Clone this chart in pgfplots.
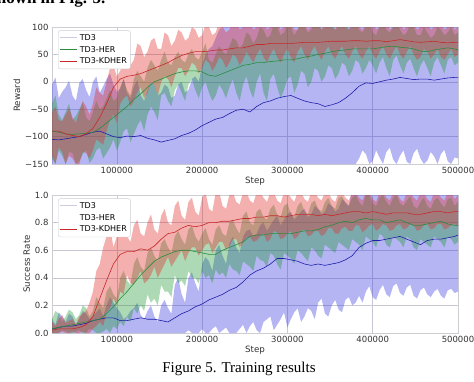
\documentclass[border=0pt]{standalone}
\usepackage{pgfplots}
\pgfplotsset{compat=1.18}
\usepackage{pgfplotstable}
\usepgfplotslibrary{fillbetween}
\usepackage{fontspec}
\setmainfont{DejaVu Sans}
\newfontfamily\timesf{Liberation Serif}

\definecolor{cb}{RGB}{60,60,225}
\definecolor{cg}{RGB}{20,150,40}
\definecolor{cr}{RGB}{225,45,45}
\definecolor{meanb}{RGB}{30,30,170}
\definecolor{meang}{RGB}{40,140,60}
\definecolor{meanr}{RGB}{200,40,40}
\definecolor{legpale}{RGB}{205,205,225}
\definecolor{gridc}{RGB}{200,200,212}
\definecolor{framec}{RGB}{205,205,210}
\definecolor{tickc}{RGB}{50,50,50}

% ---------- Reward: mean curves ----------
\pgfplotstableread{
x bm gm rm
24000 -105 -90 -90
32000 -106 -92 -90
40000 -104 -95 -95
48000 -102 -96 -98
56000 -100 -95 -100
64000 -96 -94 -95
72000 -92 -92 -85
80000 -90 -85 -65
88000 -95 -75 -40
96000 -100 -65 -10
104000 -102 -55 5
112000 -99 -45 10
120000 -100 -32 12
128000 -98 -22 15
136000 -103 -10 20
144000 -106 0 25
152000 -110 5 30
160000 -107 10 35
168000 -104 15 42
176000 -98 18 48
184000 -94 20 52
192000 -88 20 55
200000 -80 18 55
208000 -74 12 56
216000 -68 10 58
224000 -65 15 58
232000 -58 20 60
240000 -52 25 62
248000 -50 30 62
256000 -55 32 65
264000 -45 35 68
272000 -38 35 68
280000 -35 37 70
288000 -30 38 70
296000 -27 40 70
304000 -25 40 70
312000 -30 42 71
320000 -35 45 72
328000 -38 47 72
336000 -40 50 72
344000 -45 52 73
352000 -42 55 74
360000 -38 57 74
368000 -30 58 74
376000 -20 60 75
384000 -8 60 75
392000 -2 60 74
400000 -3 60 75
408000 0 62 75
416000 3 64 73
424000 5 65 75
432000 8 63 77
440000 6 62 75
448000 4 60 73
456000 5 56 72
464000 5 55 73
472000 3 58 74
480000 5 60 72
488000 7 62 71
496000 8 60 72
500000 8 58 72
}\topmean

% ---------- Reward: band limits ----------
\pgfplotstableread{
x bl bu gl gu rl ru
24000 -150 -5 -140 -40 -135 -55
28000 -150 8 -150 -25 -150 -45
32000 -150 -30 -125 -60 -120 -70
36000 -150 -18 -135 -70 -128 -72
40000 -150 -10 -150 -55 -150 -60
44000 -150 2 -128 -40 -135 -48
48000 -150 -25 -130 -70 -140 -65
52000 -150 -35 -150 -62 -150 -75
56000 -150 -2 -145 -50 -150 -55
60000 -150 5 -132 -38 -128 -35
64000 -150 -15 -125 -65 -130 -45
68000 -150 -28 -148 -72 -140 -60
72000 -150 0 -140 -55 -125 -40
76000 -150 10 -125 -35 -105 -10
80000 -150 -20 -120 -50 -110 -20
84000 -150 -8 -140 -45 -115 -25
88000 -150 5 -130 -30 -90 0
92000 -150 15 -120 -15 -70 25
96000 -150 -5 -105 -35 -60 30
100000 -150 -18 -125 -30 -75 10
104000 -150 -12 -110 -10 -40 20
108000 -150 5 -90 5 -30 45
112000 -150 -20 -85 -15 -25 50
116000 -150 -30 -110 -25 -45 30
120000 -150 -8 -95 5 -35 40
124000 -150 3 -80 20 -20 70
128000 -150 -25 -70 10 -10 65
132000 -150 -35 -90 0 -30 45
136000 -150 -15 -60 25 -20 55
140000 -150 -2 -45 40 -2 75
144000 -150 -5 -55 30 -5 80
148000 -150 -25 -70 20 -25 60
152000 -150 -20 -25 40 0 60
156000 -150 -5 -20 55 10 90
160000 -150 -10 -35 35 5 85
164000 -150 -30 -45 30 -10 65
168000 -150 -25 -15 45 10 75
172000 -150 -5 -5 55 25 95
176000 -150 0 -20 40 25 90
180000 -150 -20 -35 35 10 75
184000 -150 -15 -5 50 20 80
188000 -150 5 5 60 35 100
192000 -150 10 -15 45 30 95
196000 -150 0 -30 40 15 80
200000 -150 30 -10 55 25 85
204000 -150 50 0 70 40 105
208000 -150 60 -20 40 35 100
212000 -150 65 -35 35 20 85
216000 -150 80 -25 50 30 90
220000 -150 95 -5 65 45 110
224000 -150 100 -15 55 40 100
228000 -150 110 -30 50 25 90
232000 -150 110 -10 65 35 95
236000 -150 110 5 80 50 110
240000 -150 110 -20 75 45 110
244000 -150 110 -35 60 30 95
248000 -150 110 -5 70 40 100
252000 -150 110 10 90 55 110
256000 -150 110 -15 85 45 110
260000 -150 110 -30 70 35 95
264000 -150 110 0 80 50 100
268000 -150 110 15 100 60 110
272000 -150 110 -20 95 45 110
276000 -150 110 -35 80 35 95
280000 -150 110 5 85 50 100
284000 -150 110 15 105 60 110
288000 -150 110 -10 100 45 110
292000 -150 110 -30 85 35 95
296000 -150 110 -15 90 50 100
300000 -150 110 5 105 60 110
304000 -150 110 10 100 45 110
308000 -150 110 -20 85 35 95
312000 -150 110 -5 95 55 95
316000 -150 110 20 110 65 110
320000 -150 110 15 100 50 110
324000 -150 110 -10 90 40 95
328000 -150 110 0 95 55 100
332000 -150 110 25 110 65 110
336000 -150 110 20 110 50 105
340000 -150 110 0 95 40 95
344000 -150 110 10 100 55 110
348000 -150 110 30 110 65 110
352000 -150 110 25 110 50 100
356000 -150 110 5 95 42 95
360000 -150 110 15 100 55 110
364000 -150 110 35 110 65 110
368000 -150 110 30 110 50 100
372000 -150 110 10 95 42 95
376000 -150 110 20 100 55 110
380000 -150 110 40 110 65 110
384000 -140 110 35 95 50 100
388000 -125 110 15 90 42 95
392000 -132 110 25 100 55 105
396000 -150 110 40 110 65 110
400000 -145 110 30 90 50 110
404000 -125 110 15 85 42 95
408000 -138 110 35 100 55 100
412000 -150 110 45 110 65 110
416000 -128 110 25 95 50 110
420000 -120 110 10 90 42 95
424000 -142 110 40 100 55 100
428000 -150 110 48 110 65 110
432000 -135 110 30 95 50 110
436000 -125 110 15 85 42 95
440000 -146 110 35 90 55 100
444000 -150 110 42 105 65 110
448000 -130 110 25 100 50 105
452000 -122 110 10 85 40 95
456000 -140 110 30 85 45 100
460000 -150 110 40 100 60 110
464000 -144 110 25 90 55 110
468000 -128 110 10 80 42 95
472000 -136 110 35 85 50 100
476000 -150 110 45 100 60 110
480000 -132 110 30 95 45 105
484000 -124 110 15 85 40 95
488000 -145 110 40 90 50 100
492000 -150 110 45 100 60 110
496000 -138 110 30 85 45 95
500000 -140 110 35 90 50 100
}\topband

% ---------- Success rate: mean curves ----------
\pgfplotstableread{
x bm gm rm
24000 0.03 0.03 0.02
32000 0.04 0.04 0.03
40000 0.05 0.05 0.03
48000 0.05 0.06 0.03
56000 0.06 0.07 0.04
64000 0.07 0.08 0.06
72000 0.09 0.09 0.12
80000 0.10 0.10 0.25
88000 0.11 0.14 0.38
96000 0.11 0.19 0.50
104000 0.09 0.25 0.57
112000 0.09 0.30 0.59
120000 0.10 0.36 0.59
128000 0.11 0.42 0.61
136000 0.10 0.47 0.60
144000 0.10 0.52 0.63
152000 0.09 0.55 0.68
160000 0.08 0.57 0.72
168000 0.11 0.59 0.73
176000 0.14 0.60 0.76
184000 0.16 0.60 0.78
192000 0.19 0.59 0.77
200000 0.21 0.58 0.78
208000 0.24 0.57 0.80
216000 0.26 0.57 0.80
224000 0.28 0.60 0.81
232000 0.31 0.62 0.81
240000 0.33 0.64 0.82
248000 0.37 0.66 0.83
256000 0.42 0.70 0.83
264000 0.45 0.71 0.84
272000 0.47 0.71 0.84
280000 0.50 0.72 0.85
288000 0.54 0.72 0.85
296000 0.54 0.72 0.84
304000 0.53 0.72 0.85
312000 0.52 0.73 0.86
320000 0.50 0.74 0.86
328000 0.49 0.74 0.86
336000 0.50 0.75 0.85
344000 0.49 0.77 0.86
352000 0.50 0.78 0.85
360000 0.51 0.80 0.86
368000 0.53 0.81 0.87
376000 0.56 0.80 0.88
384000 0.62 0.82 0.88
392000 0.65 0.83 0.87
400000 0.67 0.82 0.88
408000 0.67 0.82 0.87
416000 0.68 0.80 0.86
424000 0.69 0.81 0.87
432000 0.70 0.82 0.87
440000 0.68 0.80 0.87
448000 0.66 0.78 0.86
456000 0.64 0.78 0.86
464000 0.67 0.79 0.87
472000 0.68 0.80 0.88
480000 0.68 0.81 0.88
488000 0.69 0.79 0.87
496000 0.70 0.78 0.88
500000 0.71 0.78 0.88
}\botmean

% ---------- Success rate: band limits ----------
\pgfplotstableread{
x bl bu gl gu rl ru
24000 0 0.10 0 0.10 0 0.08
28000 0 0.06 0 0.16 0 0.05
32000 0 0.15 0 0.14 0 0.10
36000 0 0.12 0.02 0.08 0.01 0.13
40000 0 0.08 0.01 0.12 0 0.07
44000 0 0.14 0 0.17 0 0.09
48000 0 0.12 0 0.15 0.01 0.10
52000 0 0.06 0.01 0.10 0 0.06
56000 0 0.10 0.02 0.13 0 0.12
60000 0 0.16 0 0.20 0.01 0.14
64000 0 0.14 0 0.18 0 0.16
68000 0 0.10 0.03 0.12 0 0.22
72000 0 0.12 0.02 0.16 0.03 0.30
76000 0 0.15 0 0.26 0.05 0.45
80000 0 0.18 0 0.22 0.08 0.50
84000 0 0.12 0.01 0.18 0.05 0.62
88000 0 0.20 0.03 0.30 0.15 0.70
92000 0 0.26 0 0.34 0.18 0.78
96000 0 0.22 0.05 0.28 0.25 0.62
100000 0 0.18 0.03 0.25 0.20 0.70
104000 0 0.15 0.08 0.40 0.30 0.80
108000 0 0.10 0.05 0.45 0.28 0.85
112000 0 0.12 0.12 0.38 0.42 0.70
116000 0 0.16 0.08 0.35 0.36 0.66
120000 0 0.18 0.18 0.50 0.35 0.78
124000 0 0.22 0.14 0.55 0.40 0.82
128000 0 0.13 0.20 0.48 0.45 0.72
132000 0 0.10 0.16 0.45 0.36 0.70
136000 0 0.16 0.28 0.58 0.38 0.80
140000 0 0.20 0.22 0.62 0.42 0.86
144000 0 0.12 0.25 0.56 0.48 0.75
148000 0 0.08 0.20 0.52 0.40 0.72
152000 0 0.20 0.35 0.65 0.45 0.85
156000 0 0.24 0.30 0.68 0.50 0.90
160000 0 0.18 0.30 0.62 0.55 0.80
164000 0 0.14 0.26 0.58 0.48 0.78
168000 0 0.35 0.42 0.70 0.52 0.92
172000 0 0.40 0.36 0.74 0.56 0.96
176000 0 0.28 0.38 0.68 0.60 0.85
180000 0 0.22 0.34 0.64 0.52 0.82
184000 0.02 0.40 0.45 0.75 0.58 0.95
188000 0 0.44 0.40 0.78 0.62 0.98
192000 0 0.36 0.40 0.70 0.62 0.88
196000 0 0.30 0.36 0.66 0.56 0.85
200000 0.03 0.50 0.45 0.72 0.60 0.98
204000 0 0.55 0.40 0.76 0.64 1.02
208000 0 0.52 0.42 0.68 0.65 0.90
212000 0.03 0.45 0.36 0.64 0.58 0.88
216000 0.05 0.60 0.46 0.75 0.62 1.02
220000 0 0.64 0.42 0.78 0.66 1.02
224000 0.02 0.56 0.44 0.72 0.66 0.92
228000 0.04 0.50 0.40 0.70 0.60 0.90
232000 0 0.65 0.50 0.80 0.63 1.0
236000 0 0.70 0.46 0.82 0.68 1.02
240000 0 0.62 0.45 0.76 0.68 0.95
244000 0.03 0.58 0.42 0.72 0.62 0.93
248000 0.06 0.70 0.52 0.85 0.65 1.02
252000 0 0.74 0.50 0.88 0.69 1.02
256000 0.05 0.75 0.48 0.80 0.70 0.96
260000 0.08 0.70 0.45 0.78 0.66 0.94
264000 0.02 0.72 0.56 0.88 0.67 1.02
268000 0 0.78 0.53 0.90 0.70 1.02
272000 0.08 0.80 0.52 0.84 0.72 0.98
276000 0.10 0.74 0.48 0.82 0.66 0.95
280000 0.12 0.78 0.58 0.90 0.68 1.02
284000 0.02 0.82 0.56 0.93 0.74 1.02
288000 0.06 0.85 0.50 0.86 0.73 0.96
292000 0.10 0.78 0.46 0.84 0.68 0.94
296000 0.15 0.82 0.58 0.92 0.69 1.02
300000 0.04 0.86 0.56 0.94 0.72 1.02
304000 0.10 0.88 0.54 0.86 0.74 0.98
308000 0.15 0.82 0.50 0.84 0.68 0.95
312000 0.18 0.85 0.60 0.92 0.70 1.02
316000 0.08 0.88 0.58 0.95 0.74 1.02
320000 0.12 0.90 0.55 0.88 0.75 0.97
324000 0.18 0.84 0.52 0.86 0.70 0.95
328000 0.16 0.86 0.62 0.94 0.71 1.02
332000 0.10 0.92 0.60 0.96 0.74 1.02
336000 0.22 0.90 0.56 0.90 0.74 0.98
340000 0.25 0.86 0.54 0.88 0.70 0.96
344000 0.14 0.88 0.64 0.95 0.72 1.02
348000 0.12 0.94 0.62 0.98 0.76 1.02
352000 0.20 0.92 0.60 0.92 0.76 0.97
356000 0.24 0.88 0.58 0.90 0.72 0.95
360000 0.17 0.90 0.66 0.98 0.72 1.02
364000 0.15 0.97 0.64 0.99 0.76 1.02
368000 0.24 0.95 0.62 0.94 0.77 0.98
372000 0.26 0.92 0.60 0.92 0.74 0.96
376000 0.20 1.05 0.68 0.98 0.74 1.02
380000 0.22 1.05 0.66 1.0 0.78 1.02
384000 0.27 1.05 0.64 0.95 0.78 0.98
388000 0.22 1.05 0.60 0.92 0.73 0.96
392000 0.30 1.05 0.70 1.0 0.75 1.02
396000 0.34 1.05 0.68 1.0 0.78 1.02
400000 0.26 1.05 0.66 0.94 0.79 0.97
404000 0.24 1.05 0.62 0.92 0.74 0.95
408000 0.31 1.05 0.72 0.98 0.76 1.02
412000 0.35 1.05 0.70 1.0 0.79 1.02
416000 0.28 1.05 0.64 0.95 0.78 0.98
420000 0.26 1.05 0.62 0.92 0.74 0.96
424000 0.34 1.05 0.70 0.98 0.75 1.02
428000 0.36 1.05 0.68 1.0 0.78 1.02
432000 0.29 1.05 0.66 0.94 0.79 0.97
436000 0.27 1.05 0.62 0.92 0.75 0.95
440000 0.33 1.05 0.70 0.96 0.76 1.02
444000 0.35 1.05 0.68 0.99 0.79 1.02
448000 0.27 1.05 0.62 0.92 0.78 0.98
452000 0.25 1.05 0.60 0.90 0.74 0.96
456000 0.31 1.05 0.68 0.95 0.75 1.02
460000 0.33 1.05 0.66 0.98 0.78 1.02
464000 0.28 1.05 0.64 0.92 0.79 0.97
468000 0.26 1.05 0.62 0.90 0.75 0.95
472000 0.30 1.05 0.70 0.96 0.76 1.02
476000 0.32 1.05 0.68 0.98 0.79 1.02
480000 0.27 1.05 0.66 0.94 0.79 0.98
484000 0.25 1.05 0.62 0.91 0.75 0.96
488000 0.31 1.05 0.70 0.97 0.76 1.02
492000 0.32 1.05 0.68 0.98 0.78 1.02
496000 0.29 1.05 0.64 0.92 0.79 0.97
500000 0.30 1.05 0.66 0.95 0.77 1.0
}\botband

\pgfplotsset{
  mystyle/.style={
    scale only axis, width=406pt,
    xmin=24000, xmax=500000,
    scaled x ticks=false, scaled y ticks=false,
    xtick={100000,200000,300000,400000,500000},
    xticklabels={100000,200000,300000,400000,500000},
    grid=major, grid style={color=gridc, line width=0.5pt},
    axis line style={draw=framec, line width=0.6pt},
    major tick length=0pt,
    tick label style={font=\fontsize{8.5}{9}\selectfont, text=tickc},
    label style={font=\fontsize{8.7}{9}\selectfont, text=tickc},
    xlabel=Step,
    xlabel style={yshift=4pt},
    legend style={at={(0.015,0.975)}, anchor=north west, draw=framec,
      rounded corners=2pt, fill=white,
      font=\fontsize{8}{9.5}\selectfont, inner sep=1.5pt, row sep=0.5pt},
    legend cell align=left,
  },
  band/.style={draw=none, forget plot},
}

\begin{document}
\begin{tikzpicture}

\begin{axis}[mystyle, at={(52pt,217pt)}, anchor=south west, height=137pt,
  ymin=-150, ymax=100,
  ytick={-150,-100,-50,0,50,100},
  yticklabels={−150,−100,−50,0,50,100},
  ylabel=Reward, ylabel style={yshift=-2pt}]
  \addlegendimage{legpale, line width=0.9pt}
  \addlegendentry{TD3}
  \addlegendimage{meang, line width=0.9pt}
  \addlegendentry{TD3-HER}
  \addlegendimage{meanr, line width=0.9pt}
  \addlegendentry{TD3-KDHER}
  \addplot[band, name path=tbu] table[x=x,y=bu]{\topband};
  \addplot[band, name path=tbl] table[x=x,y=bl]{\topband};
  \addplot[fill=cb, fill opacity=0.38, draw=none, forget plot] fill between[of=tbu and tbl];
  \addplot[band, name path=tgu] table[x=x,y=gu]{\topband};
  \addplot[band, name path=tgl] table[x=x,y=gl]{\topband};
  \addplot[fill=cg, fill opacity=0.35, draw=none, forget plot] fill between[of=tgu and tgl];
  \addplot[band, name path=tru] table[x=x,y=ru]{\topband};
  \addplot[band, name path=trl] table[x=x,y=rl]{\topband};
  \addplot[fill=cr, fill opacity=0.38, draw=none, forget plot] fill between[of=tru and trl];
  \addplot[meanb, line width=0.6pt, forget plot] table[x=x,y=bm]{\topmean};
  \addplot[meang, line width=0.6pt, forget plot] table[x=x,y=gm]{\topmean};
  \addplot[meanr, line width=0.6pt, forget plot] table[x=x,y=rm]{\topmean};
\end{axis}

\begin{axis}[mystyle, at={(52pt,48pt)}, anchor=south west, height=138pt,
  ymin=0, ymax=1,
  ytick={0,0.2,0.4,0.6,0.8,1.0},
  yticklabels={0.0,0.2,0.4,0.6,0.8,1.0},
  ylabel=Success Rate, ylabel style={yshift=-2pt}]
  \addlegendimage{legpale, line width=0.9pt}
  \addlegendentry{TD3}
  \addlegendimage{white, line width=0.9pt}
  \addlegendentry{TD3-HER}
  \addlegendimage{meanr, line width=0.9pt}
  \addlegendentry{TD3-KDHER}
  \addplot[band, name path=bbu] table[x=x,y=bu]{\botband};
  \addplot[band, name path=bbl] table[x=x,y=bl]{\botband};
  \addplot[fill=cb, fill opacity=0.38, draw=none, forget plot] fill between[of=bbu and bbl];
  \addplot[band, name path=bgu] table[x=x,y=gu]{\botband};
  \addplot[band, name path=bgl] table[x=x,y=gl]{\botband};
  \addplot[fill=cg, fill opacity=0.35, draw=none, forget plot] fill between[of=bgu and bgl];
  \addplot[band, name path=bru] table[x=x,y=ru]{\botband};
  \addplot[band, name path=brl] table[x=x,y=rl]{\botband};
  \addplot[fill=cr, fill opacity=0.38, draw=none, forget plot] fill between[of=bru and brl];
  \addplot[meanb, line width=0.6pt, forget plot] table[x=x,y=bm]{\botmean};
  \addplot[meang, line width=0.6pt, forget plot] table[x=x,y=gm]{\botmean};
  \addplot[meanr, line width=0.6pt, forget plot] table[x=x,y=rm]{\botmean};
\end{axis}

\node[anchor=base, inner sep=0pt, font=\timesf\fontsize{15}{15}\selectfont] at (239pt,9pt) {Figure 5. Training results};
\node[anchor=base west, inner sep=0pt, font=\timesf\bfseries\fontsize{17}{17}\selectfont] at (-10pt,377pt) {shown in Fig. 5.};

\pgfresetboundingbox
\useasboundingbox (0pt,0pt) rectangle (474pt,381pt);
\end{tikzpicture}
\end{document}
